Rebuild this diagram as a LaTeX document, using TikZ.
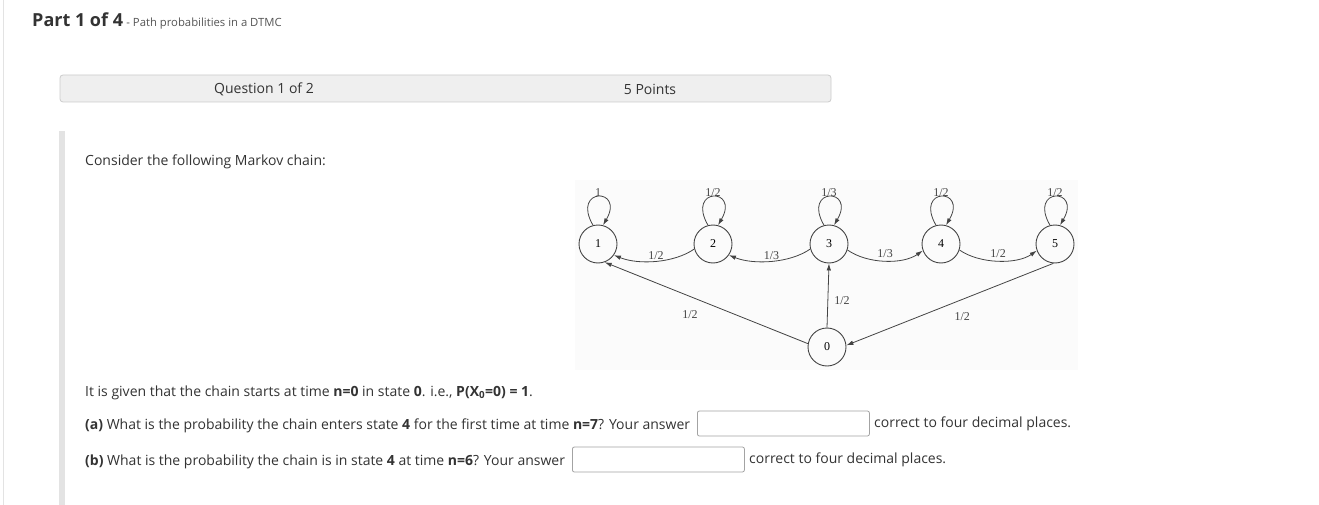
\documentclass[tikz,border=0pt]{standalone}
\usepackage{fontspec}
\setmainfont{Open Sans}
\newfontfamily\serif{Liberation Serif}
\usetikzlibrary{arrows.meta,positioning}
\definecolor{txt}{HTML}{333333}
\definecolor{sub}{HTML}{555555}
\definecolor{barbg}{HTML}{EFEFEF}
\definecolor{barline}{HTML}{CCCCCC}
\definecolor{side}{HTML}{E3E3E3}
\definecolor{edge}{HTML}{444444}
\tikzset{
  state/.style={circle,draw=edge,line width=0.9pt,minimum size=38pt,inner sep=0pt,font=\serif\fontsize{12}{12}\selectfont,text=black},
  lab/.style={font=\serif\fontsize{12}{12}\selectfont,text=edge,inner sep=1pt},
  tr/.style={draw=edge,line width=0.8pt,-{Latex[length=7pt,width=4.5pt]}},
  body/.style={anchor=base west,inner sep=0pt,font=\fontsize{14}{14}\selectfont,text=txt},
  inbox/.style={draw=barline!80!black,line width=0.8pt,rounded corners=2pt,minimum width=172pt,minimum height=25pt,inner sep=0pt,fill=white}
}
\begin{document}
\begin{tikzpicture}[x=1pt,y=-1pt]
\useasboundingbox (0,0) rectangle (1319,505);
\fill[white] (0,0) rectangle (1319,505);
\draw[side,line width=1pt] (3.5,0) -- (3.5,505);
% title
\node[anchor=base west,inner sep=0pt,text=txt,font=\fontsize{18}{18}\selectfont\bfseries] (title) at (32,27) {Part 1 of 4};
\node[anchor=base west,inner sep=0pt,text=sub,font=\fontsize{11.3}{11.3}\selectfont] (subtitle) at (title.base east) {\ - Path probabilities in a DTMC};
% header bar
\draw[barline,fill=barbg,rounded corners=3pt,line width=0.8pt] (60,75) rectangle (831,102);
\node[inner sep=0pt,text=txt,font=\fontsize{14}{14}\selectfont] (q) at (264,89) {Question 1 of 2};
\node[inner sep=0pt,text=txt,font=\fontsize{14}{14}\selectfont] (pts) at (650,89) {5 Points};
% side bar
\fill[side] (59,131) rectangle (65,505);
% body text
\node[body] (consider) at (85,166) {Consider the following Markov chain:};
% diagram background
\fill[black!1.5] (575,180) rectangle (1078,370);
% states
\node[state] (s1) at (598,244) {1};
\node[state] (s2) at (713,244) {2};
\node[state] (s3) at (829,244) {3};
\node[state] (s4) at (941,244) {4};
\node[state] (s5) at (1055,244) {5};
\node[state] (s0) at (827,347) {0};
% self loops
\foreach \s/\p in {s1/1,s2/1\slash 2,s3/1\slash 3,s4/1\slash 2,s5/1\slash 2}{
  \draw[tr] (\s.105) .. controls +(-22,-38) and +(22,-38) .. (\s.75)
    node[lab,pos=0.5,above=-1pt] {\p};
}
% chain edges
\draw[tr] (s2.195) .. controls +(-20,14) and +(25,10) .. node[lab,pos=0.5,above=0pt] {1/2} (s1.-35);
\draw[tr] (s3.195) .. controls +(-20,14) and +(25,10) .. node[lab,pos=0.5,above=0pt] {1/3} (s2.-35);
\draw[tr] (s3.-18) .. controls +(20,14) and +(-20,14) .. node[lab,pos=0.5,above=2pt] {1/3} (s4.200);
\draw[tr] (s4.-18) .. controls +(20,14) and +(-20,14) .. node[lab,pos=0.5,above=2pt] {1/2} (s5.200);
% from 0
\draw[tr] (s0.170) -- node[lab,pos=0.58,below=13pt] {1/2} (s1.-70);
\draw[tr] (s0.north) -- node[lab,pos=0.42,right=5pt] {1/2} (s3.south);
\draw[tr] (s5.-95) -- node[lab,pos=0.44,below=12pt] {1/2} (s0.5);
% questions
\node[body] (given) at (85,396) {It is given that the chain starts at time \textbf{n=0} in state \textbf{0}. i.e., \textbf{P(X\textsubscript{0}=0) = 1}.};
\node[body] (qa) at (85,429) {\textbf{(a)} What is the probability the chain enters state \textbf{4} for the first time at time \textbf{n=7}? Your answer};
\node[inbox,anchor=west] (boxa) at (697,423.5) {};
\node[body,anchor=west] (ca) at (874,423.5) {correct to four decimal places.};
\node[body] (qb) at (85,465) {\textbf{(b)} What is the probability the chain is in state \textbf{4} at time \textbf{n=6}? Your answer};
\node[inbox,anchor=west] (boxb) at (572,459.5) {};
\node[body,anchor=west] (cb) at (749,459.5) {correct to four decimal places.};
\end{tikzpicture}
\end{document}
